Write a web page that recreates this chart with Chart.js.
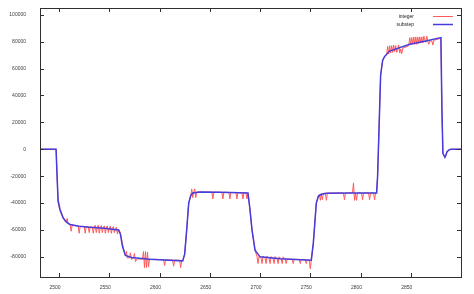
<!DOCTYPE html>
<html>
<head>
<meta charset="UTF-8">
<title>integer vs substep</title>
<script src="https://cdn.jsdelivr.net/npm/chart.js@4"></script>
<style>
    body { margin: 0; background: #ffffff; }
    #grafico { display: block; }
</style>
</head>
<body>
<canvas id="grafico" width="474" height="294"></canvas>
<script>
    // tick values
    var xTicks = [2500, 2550, 2600, 2650, 2700, 2750, 2800, 2850];
    var yTicks = [-80000, -60000, -40000, -20000, 0, 20000, 40000, 60000, 80000, 100000];

    var seriesNames = ['integer', 'substep'];
    var seriesColors = ['rgb(255,90,90)', 'rgb(70,60,220)'];

    // substep series [x, y]
    var substepPoints = [
        [2481, 0], [2497, 0], [2498, -20000], [2499, -38000], [2501, -45000], [2504, -51000],
        [2507, -54000], [2511, -56000], [2520, -57300], [2531, -58000], [2545, -58800], [2559, -60000],
        [2561, -63000], [2563, -72000], [2566, -79000], [2572, -80500], [2590, -81800], [2610, -82500],
        [2623, -83000], [2625, -78000], [2627, -60000], [2629, -40000], [2631, -34500], [2633, -32500],
        [2640, -31800], [2660, -32000], [2688, -32500], [2690, -45000], [2692, -60000], [2695, -75000],
        [2700, -80000], [2720, -81500], [2751, -82500], [2753, -70000], [2755, -50000], [2756, -40000],
        [2758, -35000], [2761, -33500], [2766, -32700], [2790, -32500], [2816, -32500], [2817, -20000],
        [2819, 30000], [2820, 55000], [2822, 66000], [2824, 69000], [2829, 73000], [2849, 78000],
        [2865, 80500], [2880, 83000], [2881, 30000], [2882, -3000], [2884, -6000], [2885, -4500],
        [2886, -2000], [2888, -500], [2890, 0], [2900, 0]
    ];

    // integer series [x, y]
    var integerPoints = [
        [2481, 0], [2497, 0], [2499, -40000], [2501, -46000], [2504, -51000], [2507, -54000],
        [2508, -51500], [2509, -55500], [2511, -56000], [2512, -61000], [2513, -56500], [2518, -57000],
        [2519, -57200], [2520, -62500], [2521, -57300], [2525, -57500], [2526, -62500], [2527, -57600],
        [2529, -57700], [2530, -62000], [2531, -57800], [2533, -57900], [2534, -62500], [2535, -58000],
        [2536, -56500], [2537, -62000], [2538, -58100], [2539, -56500], [2540, -62500], [2541, -58300],
        [2542, -56800], [2543, -62000], [2544, -58500], [2545, -57000], [2546, -62500], [2547, -58600],
        [2548, -57000], [2549, -62000], [2550, -58800], [2551, -57200], [2552, -62500], [2553, -59000],
        [2554, -57500], [2555, -62000], [2556, -59200], [2557, -58000], [2558, -63000], [2559, -59500],
        [2560, -60000], [2562, -66000], [2564, -74000], [2566, -79000],
        [2567, -76000], [2568, -81000], [2570, -80500], [2571, -77000], [2572, -82000], [2574, -81000],
        [2575, -77500], [2576, -83500], [2578, -81500], [2583, -81700], [2584, -76000], [2585, -88000],
        [2586, -76000], [2587, -88000], [2588, -76500], [2589, -87500], [2590, -81800], [2600, -82000],
        [2604, -82200], [2605, -86500], [2606, -82200], [2613, -82400], [2614, -87000], [2615, -82400],
        [2620, -82600], [2621, -88000], [2622, -82800], [2623, -83000],
        [2625, -78000], [2627, -60000], [2629, -40000], [2631, -35000], [2632, -29500], [2633, -36000],
        [2634, -32000], [2635, -29500], [2636, -36000], [2637, -31800],
        [2652, -31800], [2653, -37000], [2654, -31900], [2662, -32000], [2663, -37000], [2664, -32000],
        [2669, -32100], [2670, -37000], [2671, -32100], [2676, -32200], [2677, -37000], [2678, -32200],
        [2682, -32300], [2683, -37000], [2684, -32300], [2686, -32400], [2687, -37000], [2688, -32500],
        [2690, -45000], [2692, -60000], [2695, -75000], [2697, -80000],
        [2698, -85000], [2699, -79500], [2701, -80800], [2702, -85000], [2703, -79500], [2705, -81000],
        [2706, -85000], [2707, -79500], [2709, -81200], [2710, -85000], [2711, -79800], [2713, -81300],
        [2714, -85000], [2715, -79800], [2717, -81400], [2718, -85000], [2719, -80000], [2721, -81500],
        [2722, -85000], [2723, -80000], [2725, -81600], [2726, -85000], [2727, -81700], [2732, -81800],
        [2733, -85000], [2734, -81800], [2739, -82000], [2740, -85000], [2741, -82000], [2745, -82200],
        [2746, -85000], [2747, -82200], [2749, -82300], [2750, -89000], [2751, -82500],
        [2753, -70000], [2755, -50000], [2756, -40000], [2758, -35000],
        [2759, -33500], [2760, -38000], [2761, -33000], [2762, -37500], [2763, -32800], [2765, -32700],
        [2766, -38000], [2767, -32600], [2783, -32500], [2784, -37500], [2785, -32500], [2792, -32500],
        [2793, -25000], [2794, -38000], [2795, -32500], [2796, -38000], [2797, -32500], [2801, -32500],
        [2802, -37500], [2803, -32500], [2808, -32500], [2809, -37500], [2810, -32500], [2813, -32500],
        [2814, -37500], [2815, -32500], [2816, -32500],
        [2817, -20000], [2819, 30000], [2820, 55000], [2822, 66000], [2824, 69000],
        [2826, 70500], [2827, 76500], [2828, 71000], [2829, 77000], [2830, 71500], [2831, 77000],
        [2832, 72000], [2833, 77500], [2834, 72500], [2835, 77000], [2836, 72000], [2837, 73500],
        [2838, 77500], [2839, 71500], [2840, 74500], [2841, 71000], [2842, 75000],
        [2848, 77000], [2849, 83000], [2850, 77500], [2851, 83000], [2852, 78000], [2853, 83500],
        [2854, 78000], [2855, 83500], [2856, 78000], [2857, 83500], [2858, 78500], [2859, 83500],
        [2860, 79000], [2861, 83500], [2862, 79000], [2863, 84000], [2865, 79500], [2866, 84000],
        [2867, 80000], [2868, 78000], [2869, 80500], [2871, 80500], [2872, 77500], [2873, 81000],
        [2880, 82500], [2881, 30000], [2882, -3000], [2884, -6000], [2885, -4500], [2886, -2000],
        [2888, -500], [2890, 0], [2900, 0]
    ];

    var fonte = { family: 'Liberation Sans', size: 5 };
    var corTexto = '#404040';

    function paraXY(lista) {
        return lista.map(function (p) { return { x: p[0], y: p[1] }; });
    }

    // gnuplot-like box, inward ticks on all four sides, key in the corner
    var moldura = {
        id: 'moldura',
        afterDatasetsDraw: function (chart) {
            var ctx = chart.ctx;
            var a = chart.chartArea;
            var sx = chart.scales.x;
            var sy = chart.scales.y;
            ctx.save();
            ctx.strokeStyle = '#303030';
            ctx.lineWidth = 1;
            ctx.strokeRect(Math.round(a.left) + 0.5, Math.round(a.top) + 0.5,
                Math.round(a.right - a.left), Math.round(a.bottom - a.top));
            ctx.beginPath();
            xTicks.forEach(function (v) {
                var px = Math.round(sx.getPixelForValue(v)) + 0.5;
                ctx.moveTo(px, a.bottom); ctx.lineTo(px, a.bottom - 4);
                ctx.moveTo(px, a.top); ctx.lineTo(px, a.top + 4);
            });
            yTicks.forEach(function (v) {
                var py = Math.round(sy.getPixelForValue(v)) + 0.5;
                ctx.moveTo(a.left, py); ctx.lineTo(a.left + 4, py);
                ctx.moveTo(a.right, py); ctx.lineTo(a.right - 4, py);
            });
            ctx.stroke();

            // key
            ctx.font = '5px "Liberation Sans"';
            ctx.fillStyle = '#202020';
            ctx.textAlign = 'right';
            ctx.textBaseline = 'middle';
            chart.data.datasets.forEach(function (ds, i) {
                var y = a.top + 8.5 + i * 8;
                ctx.fillText(ds.label, a.right - 47, y);
                ctx.strokeStyle = ds.borderColor;
                ctx.lineWidth = ds.borderWidth;
                ctx.beginPath();
                ctx.moveTo(a.right - 28, y);
                ctx.lineTo(a.right - 8, y);
                ctx.stroke();
            });
            ctx.restore();
        }
    };

    var config = {
        type: 'line',
        data: {
            datasets: [{
                label: seriesNames[0],
                data: paraXY(integerPoints),
                borderColor: seriesColors[0],
                borderWidth: 1,
                pointRadius: 0,
                tension: 0,
                order: 1
            }, {
                label: seriesNames[1],
                data: paraXY(substepPoints),
                borderColor: seriesColors[1],
                borderWidth: 1.5,
                pointRadius: 0,
                tension: 0,
                order: 0
            }]
        },
        options: {
            responsive: false,
            devicePixelRatio: 1,
            animation: false,
            layout: { padding: { top: 8, right: 13, left: 0, bottom: 0 } },
            plugins: {
                legend: { display: false },
                tooltip: { enabled: false }
            },
            scales: {
                x: {
                    type: 'linear',
                    min: 2481,
                    max: 2900,
                    grid: { display: false, drawTicks: false },
                    border: { display: false },
                    afterBuildTicks: function (s) {
                        s.ticks = xTicks.map(function (v) { return { value: v }; });
                    },
                    afterFit: function (s) { s.height = 17; s.paddingLeft = 0; s.paddingRight = 0; },
                    ticks: {
                        font: fonte,
                        color: corTexto,
                        padding: 8,
                        labelOffset: -4,
                        maxRotation: 0,
                        autoSkip: false,
                        callback: function (v) { return String(v); }
                    }
                },
                y: {
                    min: -95000,
                    max: 105000,
                    grid: { display: false, drawTicks: false },
                    border: { display: false },
                    afterBuildTicks: function (s) {
                        s.ticks = yTicks.map(function (v) { return { value: v }; });
                    },
                    afterFit: function (s) { s.width = 40; s.paddingTop = 0; s.paddingBottom = 0; },
                    ticks: {
                        font: fonte,
                        color: corTexto,
                        padding: 14,
                        autoSkip: false,
                        callback: function (v) { return String(v); }
                    }
                }
            }
        },
        plugins: [moldura]
    };

    var myChart = new Chart(document.getElementById('grafico'), config);
</script>
</body>
</html>
